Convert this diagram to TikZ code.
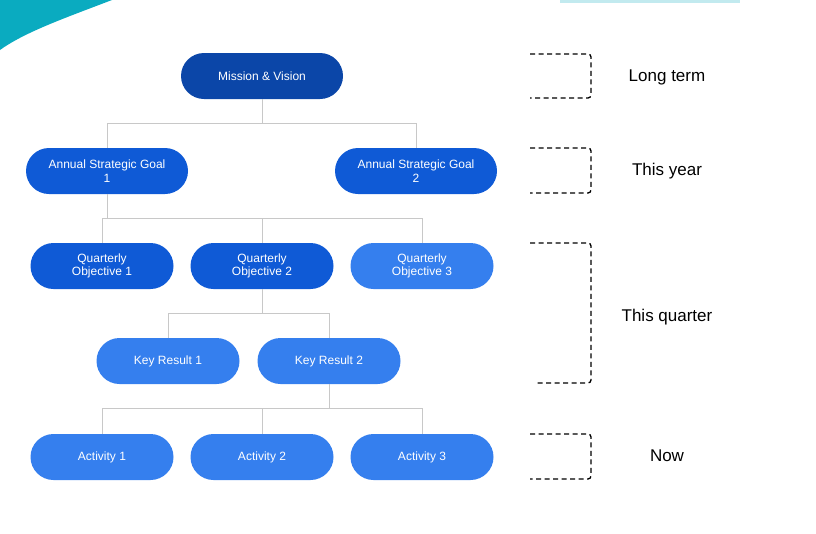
\documentclass[tikz,border=0pt]{standalone}
\usepackage{fontspec}
\setmainfont{Liberation Sans}
\usepackage{xcolor}
\definecolor{darkblue}{HTML}{0B46A8}
\definecolor{midblue}{HTML}{0F5AD6}
\definecolor{lightblue}{HTML}{357FEE}
\definecolor{teal}{HTML}{0AABC0}
\definecolor{linegray}{HTML}{C8C8C8}

\begin{document}
\begin{tikzpicture}[x=1pt,y=-1pt,
    box/.style={rounded corners=23pt,minimum width=162pt,minimum height=46pt,
      text=white,font=\fontsize{12}{13.5}\selectfont,align=center,inner sep=2pt},
    small/.style={box,minimum width=143pt},
    tree/.style={draw=linegray,line width=0.9pt},
    bracket/.style={draw=black,line width=1.3pt,dash pattern=on 5pt off 3.5pt,rounded corners=3pt},
    period/.style={font=\fontsize{17}{19}\selectfont,anchor=center}]
    \useasboundingbox (0,0) rectangle (816,533);
    % decoration at the top
    \fill[teal] (0,0) -- (112,0) .. controls (65,18) and (25,32) .. (0,50) -- cycle;
    \fill[teal!25] (560,0) rectangle (740,3);

    % levels
    \node[box,fill=darkblue] (mv) at (262,76) {Mission \& Vision};
    \node[box,fill=midblue] (g1) at (107,171) {Annual Strategic Goal\\1};
    \node[box,fill=midblue] (g2) at (416,171) {Annual Strategic Goal\\2};
    \node[small,fill=midblue] (q1) at (102,266) {Quarterly\\Objective 1};
    \node[small,fill=midblue] (q2) at (262,266) {Quarterly\\Objective 2};
    \node[small,fill=lightblue] (q3) at (422,266) {Quarterly\\Objective 3};
    \node[small,fill=lightblue] (k1) at (168,361) {Key Result 1};
    \node[small,fill=lightblue] (k2) at (329,361) {Key Result 2};
    \node[small,fill=lightblue] (a1) at (102,457) {Activity 1};
    \node[small,fill=lightblue] (a2) at (262,457) {Activity 2};
    \node[small,fill=lightblue] (a3) at (422,457) {Activity 3};

    % tree lines
    \draw[tree] (mv.south) -- ++(0,24) coordinate (j1);
    \draw[tree] (g1.north) |- (j1) -| (g2.north);
    \draw[tree] (g1.south) -- ++(0,24) coordinate (j2);
    \draw[tree] (q1.north) |- (j2) -| (q3.north);
    \draw[tree] (q2.north) -- (q2.north |- j2);
    \draw[tree] (q2.south) -- ++(0,24) coordinate (j3);
    \draw[tree] (k1.north) |- (j3) -| (k2.north);
    \draw[tree] (k2.south) -- ++(0,24) coordinate (j4);
    \draw[tree] (a1.north) |- (j4) -| (a3.north);
    \draw[tree] (a2.north) -- (a2.north |- j4);

    % time brackets
    \draw[bracket] (530,54) -- (591,54) -- (591,98) -- (530,98);
    \draw[bracket] (530,148) -- (591,148) -- (591,193) -- (530,193);
    \draw[bracket] (530,243) -- (591,243) -- (591,383) -- (536,383);
    \draw[bracket] (530,434) -- (591,434) -- (591,479) -- (530,479);
    \node[period] (lt) at (667,77) {Long term};
    \node[period] (ty) at (667,171) {This year};
    \node[period] (tq) at (667,317) {This quarter};
    \node[period] (nw) at (667,456) {Now};
  \end{tikzpicture}
\end{document}
